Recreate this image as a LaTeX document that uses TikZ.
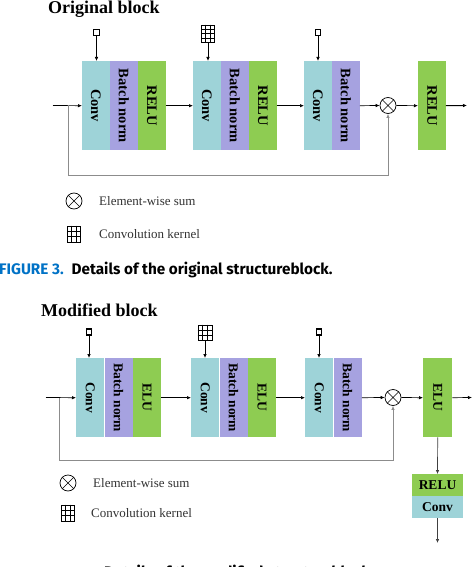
\documentclass[tikz,border=0pt]{standalone}
\usepackage{fontspec}
\setmainfont{Liberation Serif}
\newfontfamily\capfont{Fira Sans}
\usetikzlibrary{arrows.meta,calc}
\definecolor{convc}{RGB}{158,211,216}
\definecolor{bnc}{RGB}{166,162,224}
\definecolor{reluc}{RGB}{142,204,82}
\definecolor{skipc}{RGB}{140,140,140}
\definecolor{legc}{RGB}{50,50,50}
\definecolor{capblue}{RGB}{0,114,198}
\newcommand\kgrid[3]{% node, cols, rows
  \foreach \i in {1,...,#2}{\pgfmathsetmacro\t{\i/(#2)}%
    \ifnum\i<#2\draw[gridln] ($(#1.north west)!\t!(#1.north east)$) -- ($(#1.south west)!\t!(#1.south east)$);\fi}%
  \foreach \j in {1,...,#3}{\pgfmathsetmacro\t{\j/(#3)}%
    \ifnum\j<#3\draw[gridln] ($(#1.north west)!\t!(#1.south west)$) -- ($(#1.north east)!\t!(#1.south east)$);\fi}}
\newcommand\sumx[1]{\draw[sumln] (#1.45) -- (#1.225) (#1.135) -- (#1.315);}
\begin{document}
\begin{tikzpicture}[x=1pt,y=-1pt,
  blk/.style={inner sep=0pt, anchor=north west, draw=none},
  convA/.style={blk, fill=convc, minimum width=27.5pt, minimum height=89pt, font=\bfseries\fontsize{14.5}{16}\selectfont},
  bnA/.style={convA, fill=bnc},
  reluA/.style={convA, fill=reluc},
  convB/.style={blk, fill=convc, minimum width=28pt, minimum height=79pt, font=\bfseries\fontsize{13.5}{15}\selectfont},
  bnB/.style={convB, fill=bnc},
  reluB/.style={convB, fill=reluc},
  small/.style={blk, anchor=center, minimum width=51pt, minimum height=21.5pt, font=\bfseries\fontsize{13.5}{15}\selectfont},
  sumnode/.style={circle, draw, line width=0.7pt, minimum size=16pt, inner sep=0pt},
  sumln/.style={line width=0.6pt},
  sq/.style={draw, line width=1.2pt, minimum width=5.5pt, minimum height=6pt, inner sep=0pt},
  gridnode/.style={draw, line width=0.9pt, minimum width=13pt, minimum height=16pt, inner sep=0pt},
  gridln/.style={line width=0.7pt},
  ar/.style={line width=0.7pt, -{Latex[length=4pt,width=3.5pt]}},
  arg/.style={ar, draw=skipc},
  ln/.style={line width=0.7pt},
  title/.style={inner sep=0pt, anchor=west, font=\bfseries\fontsize{18}{20}\selectfont},
  leg/.style={inner sep=0pt, anchor=west, text=legc, font=\fontsize{13}{15}\selectfont},
  captxt/.style={inner sep=0pt, font=\capfont\bfseries\fontsize{15.3}{17}\selectfont}
]
\useasboundingbox (0,0) rectangle (474,567);
\clip (0,0) rectangle (474,567);

% ================= Original block =================
\node[title] (t1) at (48,9) {Original block};

\node[convA] (c1) at (82,61) {\rotatebox{-90}{Conv}};
\node[bnA] (b1) at (c1.north east) {\rotatebox{-90}{Batch norm}};
\node[reluA] (r1) at (b1.north east) {\rotatebox{-90}{RELU}};

\node[convA] (c2) at (193,61) {\rotatebox{-90}{Conv}};
\node[bnA] (b2) at (c2.north east) {\rotatebox{-90}{Batch norm}};
\node[reluA] (r2) at (b2.north east) {\rotatebox{-90}{RELU}};

\node[convA] (c3) at (304,61) {\rotatebox{-90}{Conv}};
\node[bnA] (b3) at (c3.north east) {\rotatebox{-90}{Batch norm}};

\node[sumnode] (s1) at (388,105.5) {};
\sumx{s1}
\node[reluA] (r4) at (418,61) {\rotatebox{-90}{RELU}};

\coordinate (in1) at (53,105.5);
\coordinate (sk1) at (68,105.5);
\coordinate (out1) at (467,105.5);

\draw[ar] (in1) -- (c1.west);
\draw[ar] (r1.east) -- (c2.west);
\draw[ar] (r2.east) -- (c3.west);
\draw[ar] (b3.east) -- (s1.west);
\draw[ar] (s1.east) -- (r4.west);
\draw[ar, line width=1pt] (r4.east) -- (out1);
\draw[arg] (sk1) -- (68,175) -- (s1.south |- 0,175) -- (s1.south);

% kernels
\node[sq] (k1) at (96.5,32.5) {};
\node[gridnode, minimum height=17pt] (k2) at (208,33.5) {};
\kgrid{k2}{3}{4}
\node[sq] (k3) at (318,32.5) {};
\draw[ar] (k1.south) -- (k1.south |- c1.north);
\draw[ar] (k2.south) -- (k2.south |- c2.north);
\draw[ar] (k3.south) -- (k3.south |- c3.north);

% legend
\node[sumnode] (ls1) at (74,201) {};
\sumx{ls1}
\node[leg] (lt1) at (99,201) {Element-wise sum};
\node[gridnode] (lg1) at (74,234) {};
\kgrid{lg1}{3}{3}
\node[leg] (lt2) at (99,234) {Convolution kernel};

\node[captxt, anchor=west] (cap1) at (-1,270) {\textcolor{capblue}{FIGURE 3.}\hspace{8pt}Details of the original structureblock.};

% ================= Modified block =================
\node[title] (t2) at (41,310) {Modified block};

\node[convB] (mc1) at (76,358) {\rotatebox{-90}{Conv}};
\node[bnB] (mb1) at (mc1.north east) {\rotatebox{-90}{Batch norm}};
\node[reluB] (me1) at (mb1.north east) {\rotatebox{-90}{ELU}};

\node[convB] (mc2) at (191,358) {\rotatebox{-90}{Conv}};
\node[bnB] (mb2) at (mc2.north east) {\rotatebox{-90}{Batch norm}};
\node[reluB] (me2) at (mb2.north east) {\rotatebox{-90}{ELU}};

\node[convB] (mc3) at (305,358) {\rotatebox{-90}{Conv}};
\node[bnB] (mb3) at (mc3.north east) {\rotatebox{-90}{Batch norm}};

\node[sumnode] (s2) at (393,397.5) {};
\sumx{s2}
\node[reluB, minimum width=29pt] (me4) at (423,358) {\rotatebox{-90}{ELU}};

\node[small, fill=reluc] (sr) at (437.5,485) {RELU};
\node[small, fill=convc, anchor=north] (sc) at (sr.south) {Conv};

\coordinate (in2) at (46,397.5);
\coordinate (sk2) at (59,397.5);
\coordinate (out2) at (472,397.5);
\coordinate (down2) at (437.5,543);

\draw[ar] (in2) -- (mc1.west);
\draw[ar] (me1.east) -- (mc2.west);
\draw[ar] (me2.east) -- (mc3.west);
\draw[ar] (mb3.east) -- (s2.west);
\draw[ar] (s2.east) -- (me4.west);
\draw[ar] (me4.east) -- (out2);
\draw[arg] (sk2) -- (59,460) -- (s2.south |- 0,460) -- (s2.south);
\draw[ar, draw=black!75] (me4.south) -- (sr.north);
\draw[ar, draw=black!75] (sc.south) -- (down2);

% kernels
\node[sq] (mk1) at (89,332) {};
\node[gridnode, minimum width=14pt, minimum height=15pt] (mk2) at (205,332.5) {};
\kgrid{mk2}{3}{3}
\node[sq] (mk3) at (319,332) {};
\draw[ar] (mk1.south) -- (mk1.south |- mc1.north);
\draw[ar] (mk2.south) -- (mk2.south |- mc2.north);
\draw[ar] (mk3.south) -- (mk3.south |- mc3.north);

% legend
\node[sumnode] (ls2) at (68,483) {};
\sumx{ls2}
\node[leg] (lt3) at (93,483) {Element-wise sum};
\node[gridnode] (lg2) at (68,513) {};
\kgrid{lg2}{3}{3}
\node[leg] (lt4) at (91,513) {Convolution kernel};

% caption of the lower figure, cut off by the lower edge as in the reference
\node[captxt, anchor=base west] (cap2) at (104,577.5) {Details of the modified structureblock.};
\end{tikzpicture}
\end{document}
